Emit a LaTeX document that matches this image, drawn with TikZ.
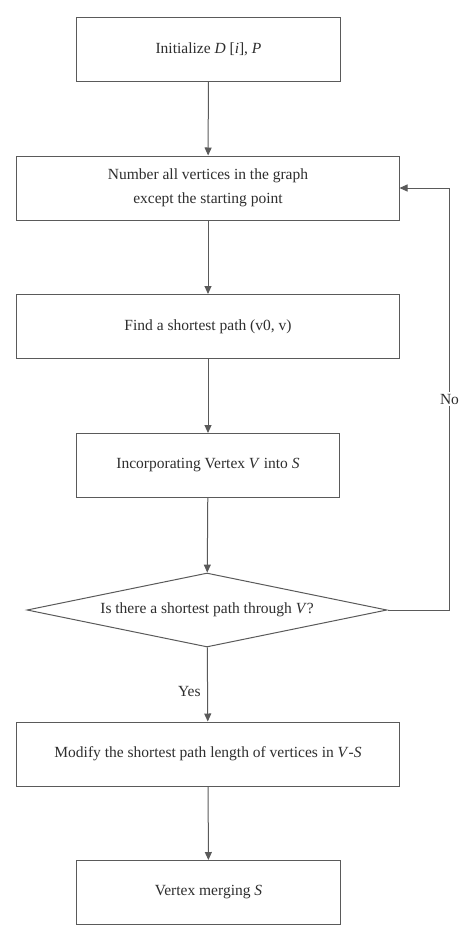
\documentclass[tikz,border=0pt]{standalone}
\usepackage{fontspec}
\setmainfont{Liberation Serif}
\usepackage{xcolor}
\usepackage{tikz}
\usetikzlibrary{arrows.meta,shapes.geometric}

\definecolor{linegray}{HTML}{5A5A5A}
\definecolor{textgray}{HTML}{2E2E2E}

\begin{document}
\begin{tikzpicture}[
  >={Triangle[length=8bp,width=7bp]},
  x=1bp,
  y=-1bp,
  font=\fontsize{15.5bp}{24bp}\selectfont,
  stepbox/.style={rectangle,draw=linegray,line width=1bp,fill=white,
    text=textgray,align=center,inner sep=0pt},
  smallbox/.style={stepbox,minimum width=263bp,minimum height=64bp},
  widebox/.style={stepbox,minimum width=382bp,minimum height=64bp},
  decision/.style={diamond,draw=linegray,line width=1bp,fill=white,
    text=textgray,inner sep=0pt,aspect=4.86,
    minimum width=360bp,minimum height=74bp},
  flow/.style={->,draw=linegray,line width=1bp},
  answer/.style={text=textgray,inner sep=1.5bp}
]
  \useasboundingbox (0,0) rectangle (474,942);

  \node[smallbox] (init) at (208.5,49) {Initialize \textit{D} [\textit{i}], \textit{P}};
  \node[widebox] (number) at (208,188)
    {Number all vertices in the graph\\except the starting point};
  \node[widebox] (find) at (208,326.5) {Find a shortest path (v0, v)};
  \node[smallbox] (incorp) at (208,465.5) {Incorporating Vertex \textit{V} into \textit{S}};
  \node[decision] (test) at (207,610) {Is there a shortest path through \textit{V}?};
  \node[widebox] (modify) at (208,754)
    {Modify the shortest path length of vertices in \textit{V}-\textit{S}};
  \node[smallbox] (merge) at (208.5,892.5) {Vertex merging \textit{S}};

  \draw[flow] (init) -- (number);
  \draw[flow] (number) -- (find);
  \draw[flow] (find) -- (incorp);
  \draw[flow] (incorp) -- (test);
  \draw[flow] (test) -- node[answer,left=5bp,pos=0.6] {Yes} (modify);
  \draw[flow] (modify) -- (merge);
  \draw[flow] (test.east) -- ++(62,0)
    |- node[answer,fill=white,pos=0.25] {No} (number.east);
\end{tikzpicture}
\end{document}
